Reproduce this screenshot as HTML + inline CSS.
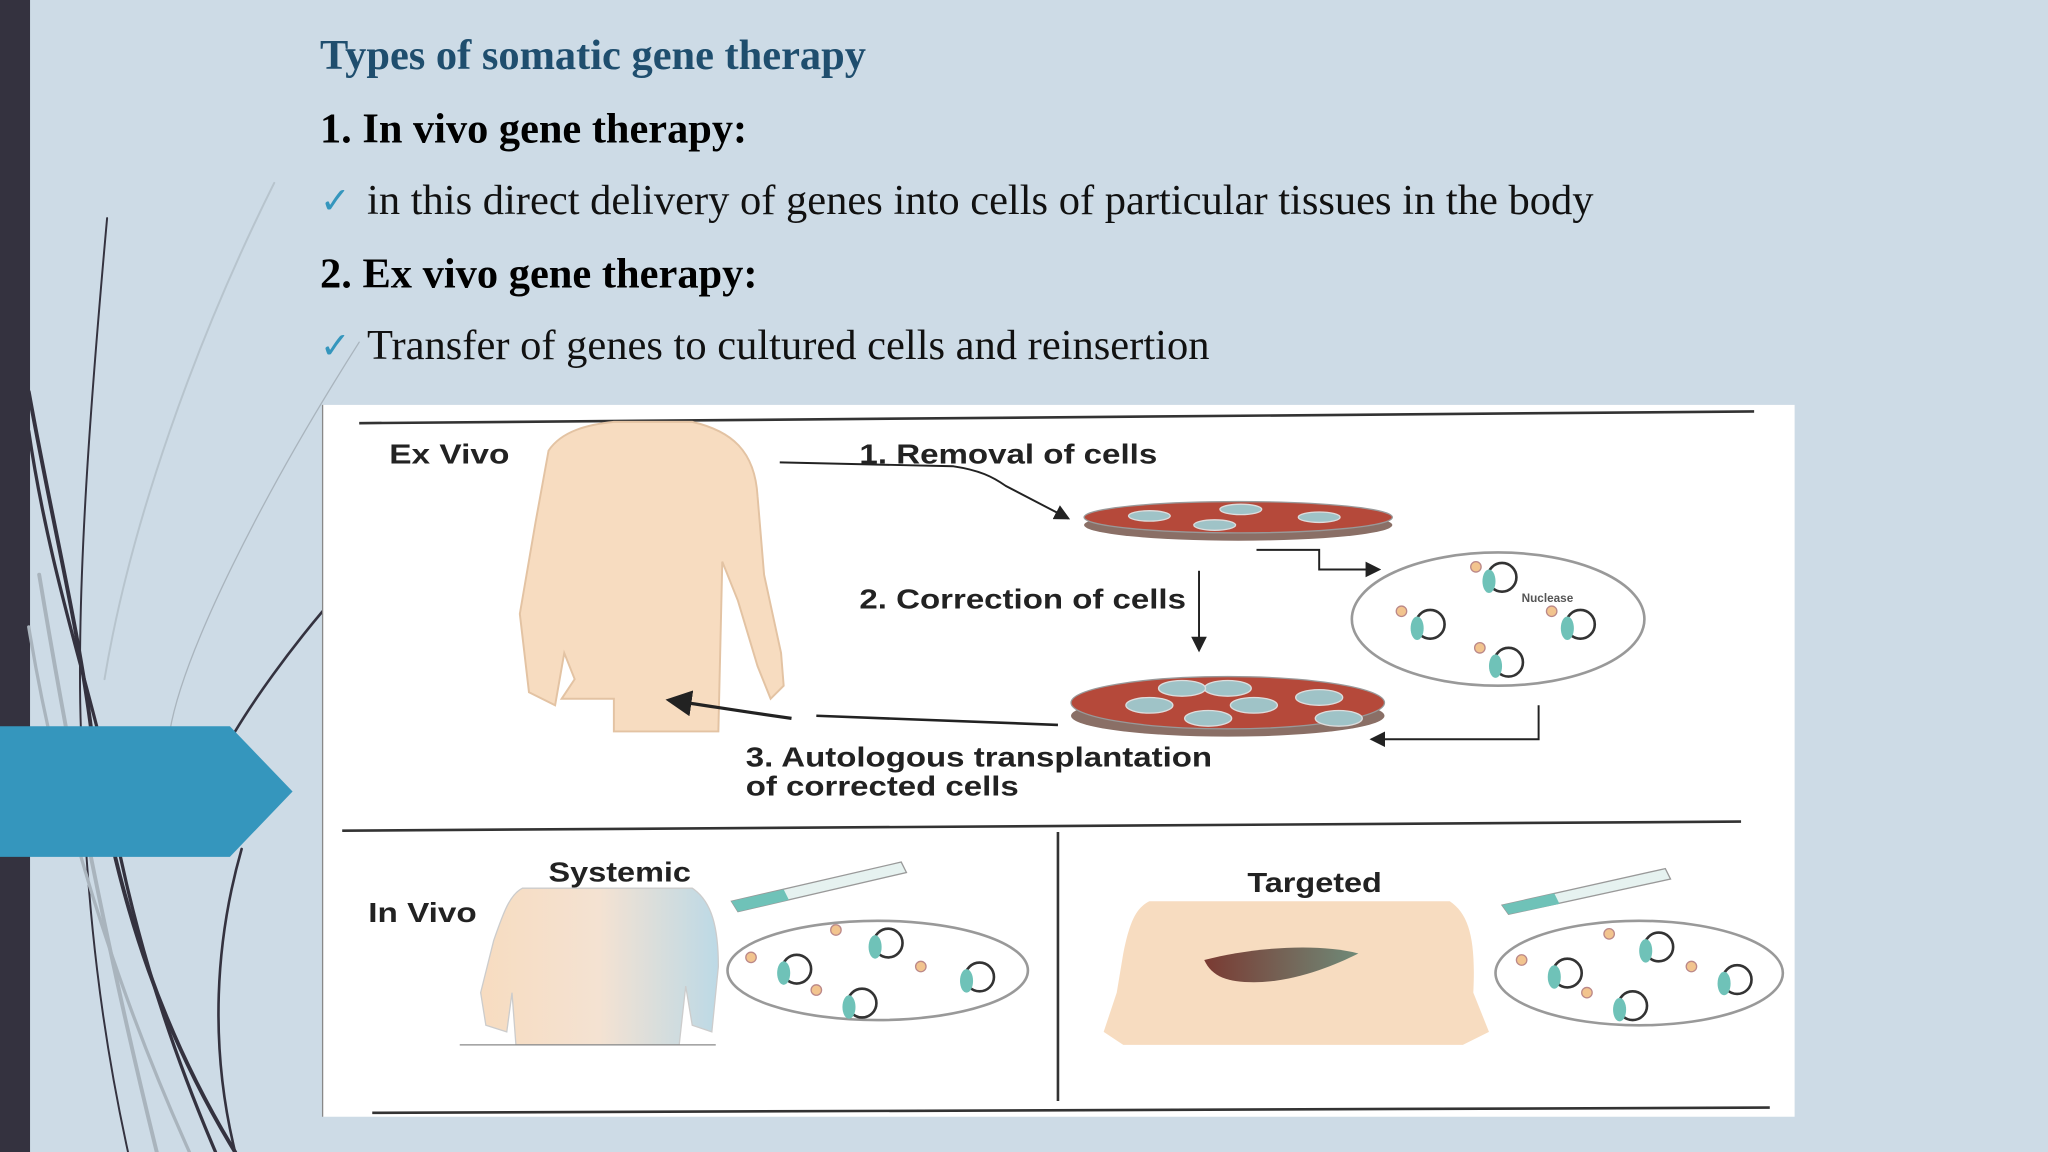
<!DOCTYPE html>
<html><head><meta charset="utf-8">
<style>
html,body{margin:0;padding:0;width:2048px;height:1152px;overflow:hidden;background:#cddbe6}
svg{display:block}
.serif{font-family:"Liberation Serif",serif}
.sans{font-family:"Liberation Sans",sans-serif;font-weight:bold}
</style></head><body>
<svg width="2048" height="1152" viewBox="0 0 1568 882" xmlns="http://www.w3.org/2000/svg">
<defs>
<linearGradient id="sys" x1="0" x2="1" y1="0" y2="0">
<stop offset="0" stop-color="#f7dcc0"/><stop offset="0.5" stop-color="#f4e2d2"/><stop offset="1" stop-color="#bcd9e6"/></linearGradient>
<linearGradient id="liver" x1="0" x2="1"><stop offset="0" stop-color="#7a3a32"/><stop offset="1" stop-color="#6f8a78"/></linearGradient>
<marker id="ah" markerWidth="8" markerHeight="8" refX="7" refY="4" orient="auto"><path d="M0,0 L8,4 L0,8 Z" fill="#222"/></marker>
</defs>
<rect width="1568" height="882" fill="#cddbe6"/>
<rect x="0" y="0" width="23" height="882" fill="#34323f"/>
<g fill="none" stroke-linecap="round">
<path d="M82,167 C70,300 58,450 62,560 C65,700 80,800 98,882" stroke="#34323f" stroke-width="1.5"/>
<path d="M275,262 C200,380 140,500 130,560" stroke="#a9b4bd" stroke-width="1"/>
<path d="M210,140 C150,260 100,400 80,520" stroke="#a9b4bd" stroke-width="1.5" opacity="0.6"/>
<path d="M22,300 C40,400 60,480 70,560 C90,700 130,800 180,882" stroke="#34323f" stroke-width="3"/>
<path d="M22,330 C35,420 60,500 75,560 C95,700 130,800 165,882" stroke="#34323f" stroke-width="2.5"/>
<path d="M30,440 C50,560 80,720 120,882" stroke="#a9b4bd" stroke-width="3"/>
<path d="M22,480 C45,620 90,760 145,882" stroke="#a9b4bd" stroke-width="2.5"/>
<path d="M247,468 C220,500 195,535 180,560" stroke="#34323f" stroke-width="2"/>
<path d="M185,650 C165,720 160,800 180,882" stroke="#34323f" stroke-width="2"/>
</g>
<path d="M0,556 L176,556 L224,606 L176,656 L0,656 Z" fill="#3596bd"/>
<text x="245" y="53" class="serif" font-size="32" font-weight="bold" fill="#1f4e6e" textLength="418" lengthAdjust="spacingAndGlyphs">Types of somatic gene therapy</text>
<text x="245" y="109" class="serif" font-size="32" font-weight="bold" fill="#000" textLength="327" lengthAdjust="spacingAndGlyphs">1. In vivo gene therapy:</text>
<text x="245" y="163" class="serif" font-size="28" fill="#3596bd">✓</text>
<text x="281" y="164" class="serif" font-size="32" fill="#111" textLength="939" lengthAdjust="spacingAndGlyphs">in this direct delivery of genes into cells of particular tissues in the body</text>
<text x="245" y="220" class="serif" font-size="32" font-weight="bold" fill="#000" textLength="335" lengthAdjust="spacingAndGlyphs">2. Ex vivo gene therapy:</text>
<text x="245" y="274" class="serif" font-size="28" fill="#3596bd">✓</text>
<text x="281" y="275" class="serif" font-size="32" fill="#111" textLength="645" lengthAdjust="spacingAndGlyphs">Transfer of genes to cultured cells and reinsertion</text>
<rect x="247" y="310" width="1127" height="545" fill="#fff"/>
<line x1="247" y1="310" x2="247" y2="855" stroke="#888" stroke-width="1"/>
<g stroke="#333" fill="none">
<line x1="275" y1="324" x2="1343" y2="315" stroke-width="2"/>
<line x1="262" y1="636" x2="1333" y2="629" stroke-width="2"/>
<line x1="810" y1="637" x2="810" y2="843" stroke-width="2"/>
<line x1="285" y1="852" x2="1355" y2="848" stroke-width="2"/>
</g>
<path d="M470,323 L530,323 C560,330 578,345 580,380 L585,440 L598,500 L600,525 L590,535 L580,510 L565,460 L553,430 L550,560 L470,560 L470,535 L430,535 L440,520 L432,500 L425,540 L405,530 L398,470 L410,400 L420,345 C430,330 450,325 470,323 Z" fill="#f7dcc0" stroke="#e3c3a3" stroke-width="1.5"/>
<text x="298" y="355" class="sans" font-size="21" fill="#222" textLength="92" lengthAdjust="spacingAndGlyphs">Ex Vivo</text>
<text x="658" y="355" class="sans" font-size="21" fill="#222" textLength="228" lengthAdjust="spacingAndGlyphs">1. Removal of cells</text>
<text x="658" y="466" class="sans" font-size="21" fill="#222" textLength="250" lengthAdjust="spacingAndGlyphs">2. Correction of cells</text>
<text x="571" y="587" class="sans" font-size="21" fill="#222" textLength="357" lengthAdjust="spacingAndGlyphs">3. Autologous transplantation</text>
<text x="571" y="609" class="sans" font-size="21" fill="#222" textLength="209" lengthAdjust="spacingAndGlyphs">of corrected cells</text>
<g stroke="#222" stroke-width="1.5" fill="none">
<path d="M597,354 L730,357 C750,360 760,365 770,372 L818,397" marker-end="url(#ah)"/>
<path d="M962,421 L1010,421 L1010,436 L1056,436" marker-end="url(#ah)"/>
<line x1="918" y1="437" x2="918" y2="498" marker-end="url(#ah)"/>
<path d="M1178,540 L1178,566 L1050,566" marker-end="url(#ah)"/>
<line x1="810" y1="555" x2="625" y2="548" stroke-width="2"/>
<path d="M606,550 C570,545 540,540 512,536" stroke-width="2.5" marker-end="url(#ah)"/>
</g>
<ellipse cx="948" cy="402" rx="118" ry="12" fill="#8a6f66"/>
<ellipse cx="948" cy="396" rx="118" ry="12" fill="#b5493a" stroke="#999"/>
<g fill="#9fc3c7" stroke="#ddd"><ellipse cx="880" cy="395" rx="16" ry="4"/><ellipse cx="950" cy="390" rx="16" ry="4"/><ellipse cx="1010" cy="396" rx="16" ry="4"/><ellipse cx="930" cy="402" rx="16" ry="4"/></g>
<ellipse cx="940" cy="548" rx="120" ry="16" fill="#8a6f66"/>
<ellipse cx="940" cy="538" rx="120" ry="20" fill="#b5493a" stroke="#999"/>
<g fill="#9fc3c7" stroke="#ddd"><ellipse cx="880" cy="540" rx="18" ry="6"/><ellipse cx="940" cy="527" rx="18" ry="6"/><ellipse cx="960" cy="540" rx="18" ry="6"/><ellipse cx="1010" cy="534" rx="18" ry="6"/><ellipse cx="925" cy="550" rx="18" ry="6"/><ellipse cx="1025" cy="550" rx="18" ry="6"/><ellipse cx="905" cy="527" rx="18" ry="6"/></g>
<ellipse cx="1147" cy="474" rx="112" ry="51" fill="#fff" stroke="#999" stroke-width="2"/>
<text x="1165" y="461" class="sans" font-size="9" fill="#555">Nuclease</text>
<g fill="none" stroke="#333" stroke-width="2">
<circle cx="1150" cy="442" r="11"/><circle cx="1095" cy="478" r="11"/><circle cx="1210" cy="478" r="11"/><circle cx="1155" cy="507" r="11"/>
</g>
<g fill="#6fc2b8"><ellipse cx="1140" cy="445" rx="5" ry="9"/><ellipse cx="1085" cy="481" rx="5" ry="9"/><ellipse cx="1200" cy="481" rx="5" ry="9"/><ellipse cx="1145" cy="510" rx="5" ry="9"/></g>
<g fill="#f2c48e" stroke="#b88"><circle cx="1130" cy="434" r="4"/><circle cx="1073" cy="468" r="4"/><circle cx="1188" cy="468" r="4"/><circle cx="1133" cy="496" r="4"/></g>
<text x="282" y="706" class="sans" font-size="21" fill="#222" textLength="83" lengthAdjust="spacingAndGlyphs">In Vivo</text>
<text x="420" y="675" class="sans" font-size="21" fill="#222" textLength="109" lengthAdjust="spacingAndGlyphs">Systemic</text>
<text x="955" y="683" class="sans" font-size="21" fill="#222" textLength="103" lengthAdjust="spacingAndGlyphs">Targeted</text>
<path d="M400,680 L530,680 C545,690 550,710 550,740 L545,790 L530,785 L525,755 L520,800 L395,800 L392,760 L388,790 L372,785 L368,760 L378,720 C385,700 390,685 400,680 Z" fill="url(#sys)" stroke="#ccc"/>
<line x1="352" y1="800" x2="548" y2="800" stroke="#888"/>
<path d="M880,690 L1110,690 C1125,700 1130,720 1128,760 L1140,790 L1120,800 L860,800 L845,790 L855,760 L860,730 C865,705 870,695 880,690 Z" fill="#f7dcc0"/>
<path d="M922,735 C960,725 1010,722 1040,730 C1020,740 990,752 960,752 C940,752 928,748 922,735 Z" fill="url(#liver)"/>
<g stroke="#999" stroke-width="2" fill="#fff">
<ellipse cx="672" cy="743" rx="115" ry="38"/>
<ellipse cx="1255" cy="745" rx="110" ry="40"/>
</g>
<g stroke="#999" fill="#e6f2f0">
<path d="M560,690 L690,660 L694,668 L565,698 Z"/>
<path d="M1150,693 L1275,665 L1279,673 L1155,700 Z"/>
</g>
<path d="M560,690 L600,681 L604,689 L565,698 Z" fill="#6fc2b8"/>
<path d="M1150,693 L1190,684 L1194,692 L1155,700 Z" fill="#6fc2b8"/>
<g fill="none" stroke="#333" stroke-width="2">
<circle cx="680" cy="722" r="11"/><circle cx="610" cy="742" r="11"/><circle cx="750" cy="748" r="11"/><circle cx="660" cy="768" r="11"/>
<circle cx="1270" cy="725" r="11"/><circle cx="1200" cy="745" r="11"/><circle cx="1330" cy="750" r="11"/><circle cx="1250" cy="770" r="11"/>
</g>
<g fill="#6fc2b8"><ellipse cx="670" cy="725" rx="5" ry="9"/><ellipse cx="600" cy="745" rx="5" ry="9"/><ellipse cx="740" cy="751" rx="5" ry="9"/><ellipse cx="650" cy="771" rx="5" ry="9"/>
<ellipse cx="1260" cy="728" rx="5" ry="9"/><ellipse cx="1190" cy="748" rx="5" ry="9"/><ellipse cx="1320" cy="753" rx="5" ry="9"/><ellipse cx="1240" cy="773" rx="5" ry="9"/></g>
<g fill="#f2c48e" stroke="#b88"><circle cx="640" cy="712" r="4"/><circle cx="575" cy="733" r="4"/><circle cx="705" cy="740" r="4"/><circle cx="625" cy="758" r="4"/>
<circle cx="1232" cy="715" r="4"/><circle cx="1165" cy="735" r="4"/><circle cx="1295" cy="740" r="4"/><circle cx="1215" cy="760" r="4"/></g>
</svg>
</body></html>
